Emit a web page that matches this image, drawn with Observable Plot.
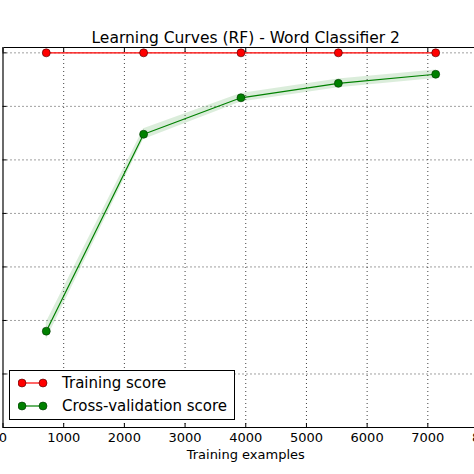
<!DOCTYPE html>
<html>
<head>
<meta charset="utf-8">
<script src="https://cdn.jsdelivr.net/npm/d3@7"></script>
<script src="https://cdn.jsdelivr.net/npm/@observablehq/plot@0.6"></script>
<style>
  html, body { margin: 0; padding: 0; background: #fff; overflow: hidden; }
  #wrap { position: relative; width: 474px; height: 474px; font-family: "DejaVu Sans", sans-serif; }
  #legend { position: absolute; left: 9px; top: 370px; width: 224px; height: 48px; border: 1px solid #000; background: #fff; box-sizing: content-box; }
  .row { position: absolute; left: 0; height: 20px; display: flex; align-items: center; font-size: 15px; color: #000; white-space: nowrap; }
  .row svg { margin-left: 8px; margin-right: 14px; }
</style>
</head>
<body>
<div id="wrap"></div>
<script>
const titleText = "Learning Curves (RF) - Word Classifier 2";
const xLabel = "Training examples";
const trainSizes = [713, 2317, 3921, 5526, 7130];
const trainScores = [1.0, 1.0, 1.0, 1.0, 1.0];
const trainStd = [0, 0, 0, 0, 0];
const cvScores = [0.740, 0.924, 0.958, 0.9715, 0.980];
const cvStd = [0.008, 0.005, 0.004, 0.004, 0.004];
const xTicks = [0, 1000, 2000, 3000, 4000, 5000, 6000, 7000, 8000];
const yTicks = [0.65, 0.70, 0.75, 0.80, 0.85, 0.90, 0.95, 1.00];
const seriesNames = ["Training score", "Cross-validation score"];
const seriesColors = ["#ff0000", "#008000"];

const train = trainSizes.map((x, i) => ({x, y: trainScores[i], s: trainStd[i]}));
const cv = trainSizes.map((x, i) => ({x, y: cvScores[i], s: cvStd[i]}));

const gridStyle = {stroke: "#000", strokeOpacity: 0.75, strokeDasharray: "1,3", strokeWidth: 1};

const chart = Plot.plot({
  width: 474,
  height: 474,
  marginLeft: 2.5,
  marginRight: 0,
  marginTop: 47,
  marginBottom: 47,
  style: {fontFamily: "DejaVu Sans", fontSize: "13px", color: "#000", background: "#fff"},
  x: {domain: [0, 8000], range: [2.5, 488]},
  y: {domain: [0.65, 1.005], range: [427, 47]},
  marks: [
    Plot.gridX(xTicks.slice(1), gridStyle),
    Plot.gridY(yTicks.slice(1), gridStyle),
    Plot.areaY(train, {x: "x", y1: d => d.y - d.s, y2: d => d.y + d.s, fill: seriesColors[0], fillOpacity: 0.12}),
    Plot.areaY(cv, {x: "x", y1: d => d.y - d.s, y2: d => d.y + d.s, fill: seriesColors[1], fillOpacity: 0.14}),
    Plot.lineY(train, {x: "x", y: "y", stroke: seriesColors[0], strokeWidth: 1.2}),
    Plot.lineY(cv, {x: "x", y: "y", stroke: seriesColors[1], strokeWidth: 1.2}),
    Plot.dot(train, {x: "x", y: "y", r: 4, fill: seriesColors[0], stroke: "#400", strokeWidth: 0.6}),
    Plot.dot(cv, {x: "x", y: "y", r: 4, fill: seriesColors[1], stroke: "#030", strokeWidth: 0.6}),
    Plot.ruleY([0.65, 1.005], {stroke: "#000", strokeWidth: 1}),
    Plot.ruleX([0], {stroke: "#444", strokeWidth: 1.6}),
    Plot.axisX(xTicks, {anchor: "bottom", tickSize: 0, tickPadding: 5, fontSize: 13, label: null, tickFormat: d => String(d)}),
    Plot.axisX(xTicks, {anchor: "bottom", tickSize: -4, text: null, label: null}),
    Plot.axisX(xTicks, {anchor: "top", tickSize: -4, text: null, label: null}),
    Plot.axisY(yTicks, {anchor: "left", tickSize: -4, text: null, label: null}),
    Plot.text([titleText], {frameAnchor: "top", dx: 7, dy: -5, lineAnchor: "bottom", fontSize: 15.5, fill: "#000"}),
    Plot.text([xLabel], {frameAnchor: "bottom", dx: 7, dy: 22, lineAnchor: "top", fontSize: 13, fill: "#000"})
  ]
});

const wrap = document.getElementById("wrap");
wrap.appendChild(chart);

const legend = document.createElement("div");
legend.id = "legend";
seriesNames.forEach((name, i) => {
  const row = document.createElement("div");
  row.className = "row";
  row.style.top = (i === 0 ? 2 : 25) + "px";
  const c = seriesColors[i];
  const edge = i === 0 ? "#400" : "#030";
  row.innerHTML = `<svg width="30" height="12"><line x1="4" y1="6" x2="25" y2="6" stroke="${c}" stroke-width="1.2"/><circle cx="4" cy="6" r="4" fill="${c}" stroke="${edge}" stroke-width="0.6"/><circle cx="25" cy="6" r="4" fill="${c}" stroke="${edge}" stroke-width="0.6"/></svg><span>${name}</span>`;
  legend.appendChild(row);
});
wrap.appendChild(legend);
</script>
</body>
</html>
